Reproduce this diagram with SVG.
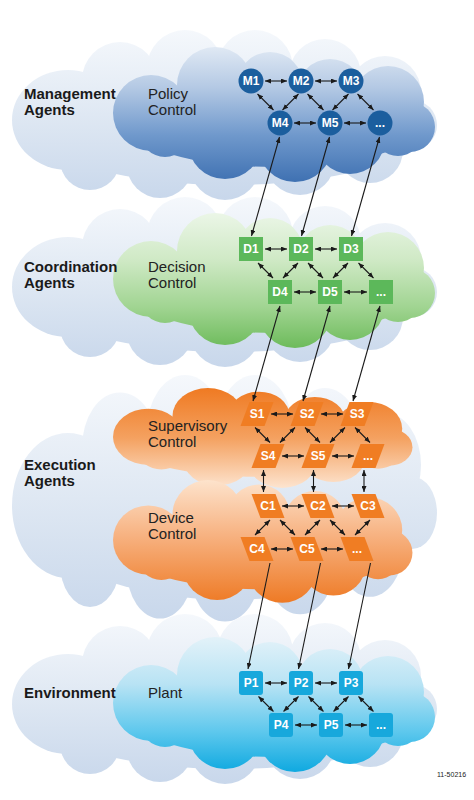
<svg xmlns="http://www.w3.org/2000/svg" xmlns:xlink="http://www.w3.org/1999/xlink" width="474" height="800" viewBox="0 0 474 800">
<style>
.lbl{font-family:"Liberation Sans",Arial,sans-serif;font-weight:bold;font-size:15px;fill:#1a1a1a}
.sub{font-family:"Liberation Sans",Arial,sans-serif;font-size:15px;fill:#222}
.nt{font-family:"Liberation Sans",Arial,sans-serif;font-weight:bold;font-size:12px;fill:#fff;text-anchor:middle}
.m{fill:#1b5e9e}
.d{fill:#5cb85a}
.o{fill:#f07d23}
.p{fill:#17a8dc}
.cn line{stroke:#1a1a1a;stroke-width:1.1;fill:none}
.bi{marker-start:url(#ah);marker-end:url(#ah)}
.one{marker-end:url(#ah)}
.code{font-family:"Liberation Sans",Arial,sans-serif;font-size:7px;fill:#222}
</style>
<defs>
<marker id="ah" markerUnits="userSpaceOnUse" markerWidth="6" markerHeight="5" refX="6" refY="2.5" orient="auto-start-reverse"><path d="M0,0 L6,2.5 L0,5 z" fill="#1a1a1a"/></marker>
<linearGradient id="gBack" gradientUnits="userSpaceOnUse" x1="0" y1="0" x2="0" y2="170"><stop offset="0" stop-color="#f5f8fc"/><stop offset="0.5" stop-color="#dfe8f3"/><stop offset="1" stop-color="#c8d7eb"/></linearGradient>
<linearGradient id="gBlue" gradientUnits="userSpaceOnUse" x1="0" y1="0" x2="0" y2="135"><stop offset="0" stop-color="#e0e9f4"/><stop offset="0.3" stop-color="#b4c9e4"/><stop offset="0.65" stop-color="#7099cc"/><stop offset="1" stop-color="#3f71b2"/></linearGradient>
<linearGradient id="gGreen" gradientUnits="userSpaceOnUse" x1="0" y1="0" x2="0" y2="135"><stop offset="0" stop-color="#ebf6e7"/><stop offset="0.35" stop-color="#cfe9c5"/><stop offset="0.7" stop-color="#a0d491"/><stop offset="1" stop-color="#6dbb5b"/></linearGradient>
<linearGradient id="gOrTop" gradientUnits="userSpaceOnUse" x1="0" y1="0" x2="0" y2="135"><stop offset="0" stop-color="#ef7a22"/><stop offset="0.5" stop-color="#f4a160"/><stop offset="1" stop-color="#fde4cf"/></linearGradient>
<linearGradient id="gOrBot" gradientUnits="userSpaceOnUse" x1="0" y1="0" x2="0" y2="135"><stop offset="0" stop-color="#fde3cc"/><stop offset="0.45" stop-color="#f7b281"/><stop offset="1" stop-color="#ee7a25"/></linearGradient>
<linearGradient id="gCyan" gradientUnits="userSpaceOnUse" x1="0" y1="0" x2="0" y2="135"><stop offset="0" stop-color="#e3f2f9"/><stop offset="0.35" stop-color="#b8e3f4"/><stop offset="0.7" stop-color="#5ec8ed"/><stop offset="1" stop-color="#0fa9e0"/></linearGradient>
<g id="backCloud">
<ellipse cx="68" cy="90" rx="56" ry="50"/>
<circle cx="120" cy="50" r="38"/>
<circle cx="185" cy="38" r="38"/>
<circle cx="255" cy="38" r="38"/>
<circle cx="325" cy="45" r="36"/>
<circle cx="385" cy="62" r="36"/>
<circle cx="412" cy="95" r="25"/>
<ellipse cx="230" cy="100" rx="190" ry="55"/>
<circle cx="90" cy="130" r="30"/>
<circle cx="160" cy="135" r="33"/>
<circle cx="225" cy="135" r="35"/>
<circle cx="300" cy="130" r="35"/>
<circle cx="370" cy="120" r="33"/>
</g>
<g id="frontCloud">
<circle cx="151" cy="66" r="38"/>
<circle cx="215" cy="38" r="38"/>
<circle cx="270" cy="38" r="33"/>
<circle cx="330" cy="45" r="33"/>
<circle cx="388" cy="55" r="36"/>
<circle cx="410" cy="80" r="25"/>
<ellipse cx="275" cy="75" rx="150" ry="45"/>
<circle cx="165" cy="85" r="25"/>
<circle cx="225" cy="95" r="37"/>
<circle cx="295" cy="98" r="37"/>
<circle cx="350" cy="92" r="35"/>
<circle cx="398" cy="85" r="24"/>
</g>
<polygon id="pgS" points="-7.5,-12 16.5,-12 7.5,12 -16.5,12"/>
<polygon id="pgC" points="-16.5,-12 7.5,-12 16.5,12 -7.5,12"/>
</defs>
<rect width="474" height="800" fill="#fff"/>
<g id="clouds">
<use href="#backCloud" fill="url(#gBack)" transform="translate(0,30)"/>
<use href="#frontCloud" fill="url(#gBlue)" transform="translate(0,47)"/>
<use href="#backCloud" fill="url(#gBack)" transform="translate(0,197)"/>
<use href="#frontCloud" fill="url(#gGreen)" transform="translate(0,213)"/>
<use href="#backCloud" fill="url(#gBack)" transform="translate(0,375) scale(1,1.45)"/>
<use href="#frontCloud" fill="url(#gOrTop)" transform="translate(113,388) scale(0.93,0.74) translate(-113,0)"/>
<use href="#frontCloud" fill="url(#gOrBot)" transform="translate(113,480) scale(0.93,0.91) translate(-113,0)"/>
<use href="#backCloud" fill="url(#gBack)" transform="translate(0,614)"/>
<use href="#frontCloud" fill="url(#gCyan)" transform="translate(0,637)"/>
</g>
<g id="labels">
<text class="lbl" x="24" y="99">Management</text>
<text class="lbl" x="24" y="115">Agents</text>
<text class="sub" x="148" y="99">Policy</text>
<text class="sub" x="148" y="115">Control</text>
<text class="lbl" x="24" y="272">Coordination</text>
<text class="lbl" x="24" y="288">Agents</text>
<text class="sub" x="148" y="272">Decision</text>
<text class="sub" x="148" y="288">Control</text>
<text class="lbl" x="24" y="470">Execution</text>
<text class="lbl" x="24" y="486">Agents</text>
<text class="sub" x="148" y="431">Supervisory</text>
<text class="sub" x="148" y="447">Control</text>
<text class="sub" x="148" y="523">Device</text>
<text class="sub" x="148" y="539">Control</text>
<text class="lbl" x="24" y="698">Environment</text>
<text class="sub" x="148" y="698">Plant</text>
<text class="code" x="437" y="777">11-50216</text>
</g>
<g id="connectors" class="cn">
<line class="bi" x1="265" y1="81" x2="287" y2="81"/>
<line class="bi" x1="315" y1="81" x2="337" y2="81"/>
<line class="bi" x1="294" y1="123" x2="316" y2="123"/>
<line class="bi" x1="344" y1="123" x2="366" y2="123"/>
<line class="bi" x1="257.5" y1="94" x2="273.5" y2="110"/>
<line class="bi" x1="298.5" y1="94" x2="282.5" y2="110"/>
<line class="bi" x1="307.5" y1="94" x2="323.5" y2="110"/>
<line class="bi" x1="348.5" y1="94" x2="332.5" y2="110"/>
<line class="bi" x1="357.5" y1="94" x2="373.5" y2="110"/>
<line class="bi" x1="279.5" y1="137" x2="251.5" y2="236"/>
<line class="bi" x1="329.5" y1="137" x2="301.5" y2="236"/>
<line class="bi" x1="379.5" y1="137" x2="351.5" y2="236"/>
<line class="bi" x1="265" y1="249" x2="287" y2="249"/>
<line class="bi" x1="315" y1="249" x2="337" y2="249"/>
<line class="bi" x1="294" y1="292" x2="316" y2="292"/>
<line class="bi" x1="344" y1="292" x2="367" y2="292"/>
<line class="bi" x1="258" y1="263" x2="273" y2="278"/>
<line class="bi" x1="298" y1="263" x2="283" y2="278"/>
<line class="bi" x1="308" y1="263" x2="323" y2="278"/>
<line class="bi" x1="348" y1="263" x2="333" y2="278"/>
<line class="bi" x1="358.5" y1="263" x2="373.5" y2="278"/>
<line class="bi" x1="280" y1="306" x2="253" y2="401"/>
<line class="bi" x1="330" y1="306" x2="303" y2="401"/>
<line class="bi" x1="380" y1="306" x2="353" y2="401"/>
<line class="bi" x1="271" y1="414" x2="293" y2="414"/>
<line class="bi" x1="321" y1="414" x2="343" y2="414"/>
<line class="bi" x1="282" y1="456" x2="304" y2="456"/>
<line class="bi" x1="332" y1="456" x2="354" y2="456"/>
<line class="bi" x1="255" y1="427.5" x2="270" y2="442.5"/>
<line class="bi" x1="295" y1="427.5" x2="280" y2="442.5"/>
<line class="bi" x1="305" y1="427.5" x2="320" y2="442.5"/>
<line class="bi" x1="345" y1="427.5" x2="330" y2="442.5"/>
<line class="bi" x1="355" y1="427.5" x2="370" y2="442.5"/>
<line class="bi" x1="263.5" y1="470" x2="263.5" y2="492"/>
<line class="bi" x1="313.5" y1="470" x2="313.5" y2="492"/>
<line class="bi" x1="364" y1="470" x2="364" y2="492"/>
<line class="bi" x1="282" y1="506" x2="304" y2="506"/>
<line class="bi" x1="332" y1="506" x2="354" y2="506"/>
<line class="bi" x1="271" y1="549" x2="293" y2="549"/>
<line class="bi" x1="321" y1="549" x2="343" y2="549"/>
<line class="bi" x1="270" y1="520" x2="255" y2="535"/>
<line class="bi" x1="280" y1="520" x2="295" y2="535"/>
<line class="bi" x1="320" y1="520" x2="305" y2="535"/>
<line class="bi" x1="330" y1="520" x2="345" y2="535"/>
<line class="bi" x1="370" y1="520" x2="355" y2="535"/>
<line class="one" x1="270" y1="563" x2="248" y2="669"/>
<line class="one" x1="320.5" y1="563" x2="298.5" y2="669"/>
<line class="one" x1="370.5" y1="563" x2="348.5" y2="669"/>
<line class="bi" x1="265" y1="683" x2="287" y2="683"/>
<line class="bi" x1="315" y1="683" x2="337" y2="683"/>
<line class="bi" x1="295" y1="725" x2="317" y2="725"/>
<line class="bi" x1="345" y1="725" x2="367" y2="725"/>
<line class="bi" x1="258.5" y1="696.5" x2="273.5" y2="711.5"/>
<line class="bi" x1="298.5" y1="696.5" x2="283.5" y2="711.5"/>
<line class="bi" x1="308.5" y1="696.5" x2="323.5" y2="711.5"/>
<line class="bi" x1="348.5" y1="696.5" x2="333.5" y2="711.5"/>
<line class="bi" x1="358.5" y1="696.5" x2="373.5" y2="711.5"/>
</g>
<g id="M1"><circle class="m" cx="251" cy="81" r="12.5"/><text class="nt" x="251" y="85">M1</text></g>
<g id="M2"><circle class="m" cx="301" cy="81" r="12.5"/><text class="nt" x="301" y="85">M2</text></g>
<g id="M3"><circle class="m" cx="351" cy="81" r="12.5"/><text class="nt" x="351" y="85">M3</text></g>
<g id="M4"><circle class="m" cx="280" cy="123" r="12.5"/><text class="nt" x="280" y="127">M4</text></g>
<g id="M5"><circle class="m" cx="330" cy="123" r="12.5"/><text class="nt" x="330" y="127">M5</text></g>
<g id="M6"><circle class="m" cx="380" cy="123" r="12.5"/><text class="nt" x="380" y="127">...</text></g>
<g id="D1"><rect class="d" x="239" y="237" width="24" height="24"/><text class="nt" x="251" y="253">D1</text></g>
<g id="D2"><rect class="d" x="289" y="237" width="24" height="24"/><text class="nt" x="301" y="253">D2</text></g>
<g id="D3"><rect class="d" x="339" y="237" width="24" height="24"/><text class="nt" x="351" y="253">D3</text></g>
<g id="D4"><rect class="d" x="268" y="280" width="24" height="24"/><text class="nt" x="280" y="296">D4</text></g>
<g id="D5"><rect class="d" x="318" y="280" width="24" height="24"/><text class="nt" x="330" y="296">D5</text></g>
<g id="D6"><rect class="d" x="369" y="280" width="24" height="24"/><text class="nt" x="381" y="296">...</text></g>
<g id="S1"><use href="#pgS" class="o" x="257" y="414"/><text class="nt" x="257" y="418">S1</text></g>
<g id="S2"><use href="#pgS" class="o" x="307" y="414"/><text class="nt" x="307" y="418">S2</text></g>
<g id="S3"><use href="#pgS" class="o" x="357" y="414"/><text class="nt" x="357" y="418">S3</text></g>
<g id="S4"><use href="#pgS" class="o" x="268" y="456"/><text class="nt" x="268" y="460">S4</text></g>
<g id="S5"><use href="#pgS" class="o" x="318" y="456"/><text class="nt" x="318" y="460">S5</text></g>
<g id="S6"><use href="#pgS" class="o" x="368" y="456"/><text class="nt" x="368" y="460">...</text></g>
<g id="C1"><use href="#pgC" class="o" x="268" y="506"/><text class="nt" x="268" y="510">C1</text></g>
<g id="C2"><use href="#pgC" class="o" x="318" y="506"/><text class="nt" x="318" y="510">C2</text></g>
<g id="C3"><use href="#pgC" class="o" x="368" y="506"/><text class="nt" x="368" y="510">C3</text></g>
<g id="C4"><use href="#pgC" class="o" x="257" y="549"/><text class="nt" x="257" y="553">C4</text></g>
<g id="C5"><use href="#pgC" class="o" x="307" y="549"/><text class="nt" x="307" y="553">C5</text></g>
<g id="C6"><use href="#pgC" class="o" x="357" y="549"/><text class="nt" x="357" y="553">...</text></g>
<g id="P1"><rect class="p" x="239" y="671" width="24" height="24" rx="3"/><text class="nt" x="251" y="687">P1</text></g>
<g id="P2"><rect class="p" x="289" y="671" width="24" height="24" rx="3"/><text class="nt" x="301" y="687">P2</text></g>
<g id="P3"><rect class="p" x="339" y="671" width="24" height="24" rx="3"/><text class="nt" x="351" y="687">P3</text></g>
<g id="P4"><rect class="p" x="269" y="713" width="24" height="24" rx="3"/><text class="nt" x="281" y="729">P4</text></g>
<g id="P5"><rect class="p" x="319" y="713" width="24" height="24" rx="3"/><text class="nt" x="331" y="729">P5</text></g>
<g id="P6"><rect class="p" x="369" y="713" width="24" height="24" rx="3"/><text class="nt" x="381" y="729">...</text></g>
</svg>
